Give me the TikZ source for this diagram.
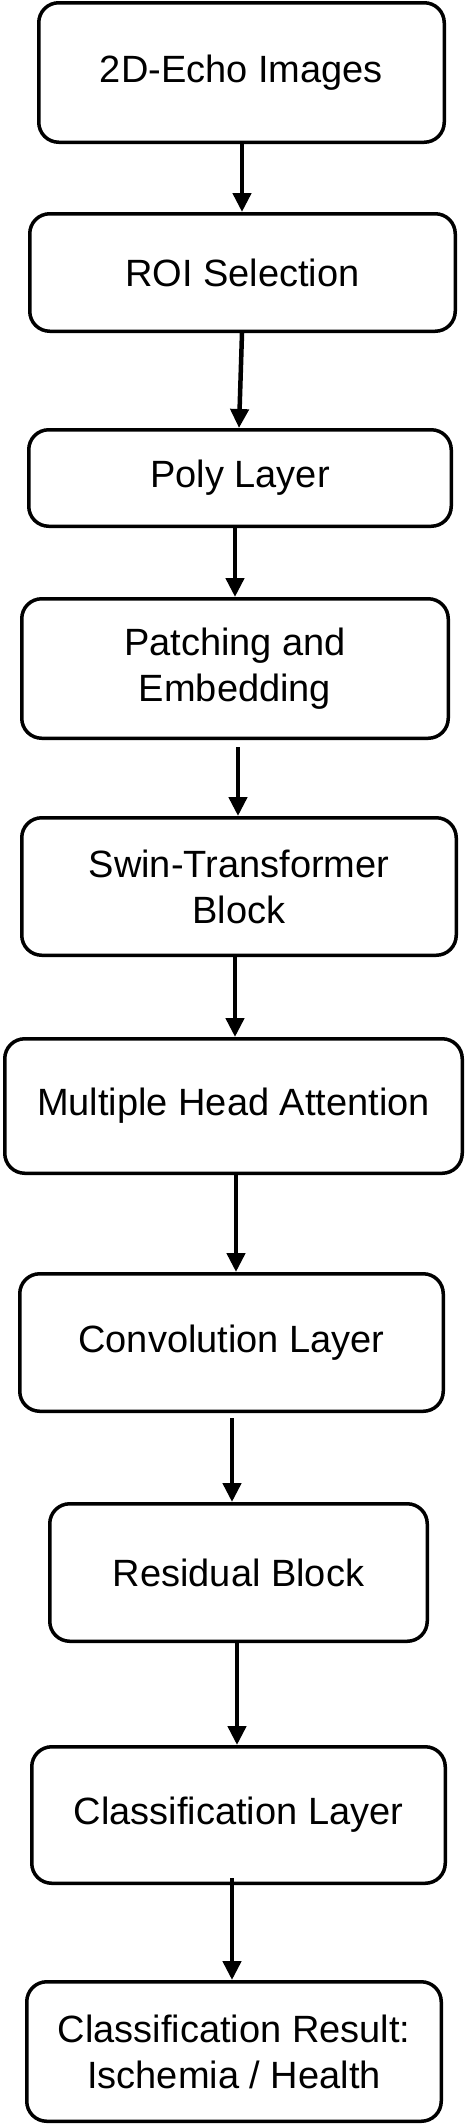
\documentclass[tikz,border=0pt]{standalone}
\usepackage{fontspec}
\setmainfont{Liberation Sans}
\usetikzlibrary{arrows.meta}
\tikzset{
  flowbox/.style={draw=black, line width=3.5pt, rounded corners=20pt, fill=white,
    inner sep=0pt, align=center, font=\fontsize{38pt}{46pt}\selectfont},
  flowarrow/.style={line width=4.5pt, -{Triangle[width=18pt,length=19pt]}}
}
\begin{document}
\begin{tikzpicture}[x=1pt,y=-1pt]
\useasboundingbox (0,0) rectangle (466,2126);
\node[flowbox, minimum width=405.5pt, minimum height=139.5pt] (b1) at (241.5,72.5) {2D-Echo Images};
\node[flowbox, minimum width=425.5pt, minimum height=117.5pt] (b2) at (242.5,272.5) {ROI Selection};
\node[flowbox, minimum width=422.5pt, minimum height=96.5pt] (b3) at (240,478) {Poly Layer};
\node[flowbox, minimum width=426.5pt, minimum height=139.5pt] (b4) at (235,668.5) {Patching and\\Embedding};
\node[flowbox, minimum width=434.5pt, minimum height=137.5pt] (b5) at (239,886.5) {Swin-Transformer\\Block};
\node[flowbox, minimum width=457.5pt, minimum height=134.5pt] (b6) at (233.5,1106) {Multiple Head Attention};
\node[flowbox, minimum width=423.5pt, minimum height=137.5pt] (b7) at (231.5,1342.5) {Convolution Layer};
\node[flowbox, minimum width=377.5pt, minimum height=137.5pt] (b8) at (238.5,1572.5) {Residual Block};
\node[flowbox, minimum width=413.5pt, minimum height=136.5pt] (b9) at (238.5,1815) {Classification Layer};
\node[flowbox, minimum width=414.5pt, minimum height=139.5pt] (b10) at (234,2051.5) {Classification Result:\\Ischemia / Health};

\draw[flowarrow] (b1.south -| 242,0) -- (b2.north -| 242,0);
\draw[flowarrow] (b2.south -| 242,0) -- (b3.north -| 239,0);
\draw[flowarrow] (b3.south -| 235,0) -- (b4.north -| 235,0);
\draw[flowarrow] ([yshift=-7pt]b4.south -| 238,0) -- (b5.north -| 238,0);
\draw[flowarrow] (b5.south -| 235,0) -- (b6.north -| 235,0);
\draw[flowarrow] (b6.south -| 236,0) -- (b7.north -| 236,0);
\draw[flowarrow] ([yshift=-5pt]b7.south -| 232,0) -- (b8.north -| 232,0);
\draw[flowarrow] (b8.south -| 237,0) -- (b9.north -| 237,0);
\draw[flowarrow] ([yshift=7pt]b9.south -| 232,0) -- (b10.north -| 232,0);
\end{tikzpicture}
\end{document}
